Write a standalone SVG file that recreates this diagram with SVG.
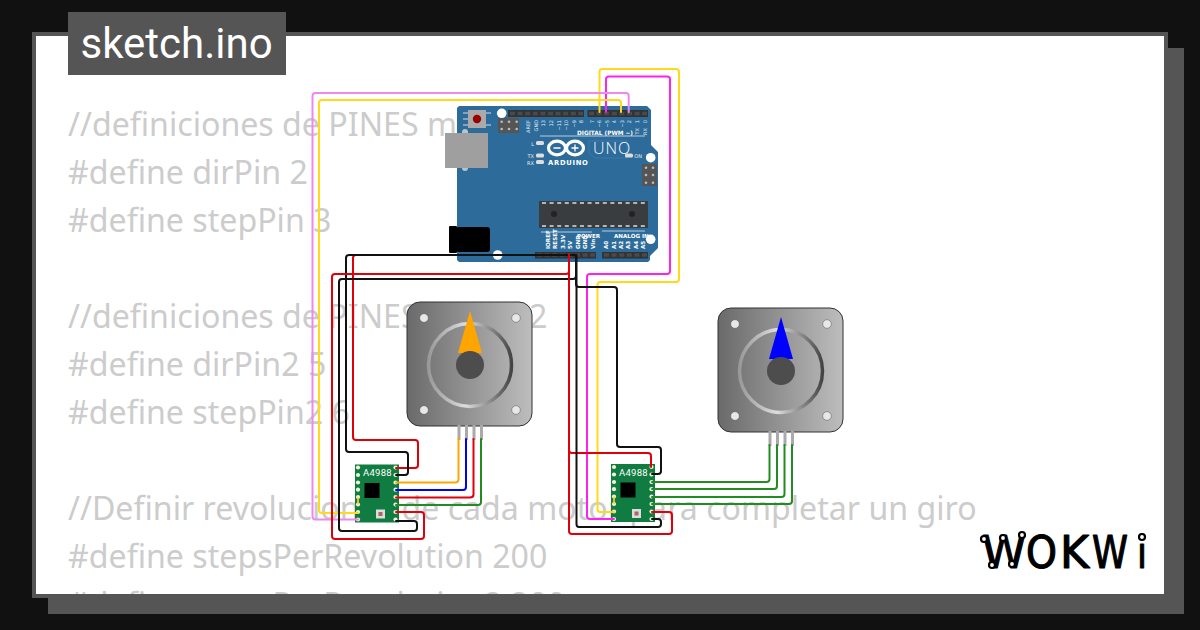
<svg xmlns="http://www.w3.org/2000/svg" xmlns:xlink="http://www.w3.org/1999/xlink" width="1200" height="630" viewBox="0 0 1200 630">
<style>
.code{font:400 32.13px "Noto Sans",sans-serif;fill:#ccc}
.w{fill:none;stroke-width:2;stroke-linejoin:round;stroke-linecap:round}
.lb{font:700 5.6px "DejaVu Sans",sans-serif;fill:#fff}
.pn{font:400 5px "DejaVu Sans",sans-serif;fill:#e6eef4;text-anchor:end}
</style>
<defs>
<linearGradient id="mg"><stop offset="0" stop-color="#6a6a6a"/><stop offset="1" stop-color="#bdbdbd"/></linearGradient>
<linearGradient id="rg"><stop offset="0" stop-color="#999"/><stop offset=".45" stop-color="#ddd"/><stop offset="1" stop-color="#444"/></linearGradient>
<clipPath id="page"><rect x="36" y="36" width="1128" height="558"/></clipPath>
<g id="motor">
<rect x="0" y="0" width="125" height="124" rx="13" fill="url(#mg)" stroke="#333" stroke-width="1"/>
<g fill="#e8e8e8" stroke="#555" stroke-width=".5"><circle cx="17" cy="16" r="4.3"/><circle cx="109" cy="16" r="4.3"/><circle cx="17" cy="108" r="4.3"/><circle cx="109" cy="108" r="4.3"/></g>
<circle cx="63" cy="63" r="41.5" fill="none" stroke="url(#rg)" stroke-width="3.5"/>
<g fill="#aaa"><rect x="50.5" y="123" width="3" height="15"/><rect x="58" y="123" width="3" height="15"/><rect x="65.5" y="123" width="3" height="15"/><rect x="73" y="123" width="3" height="15"/></g>
</g>
<g id="driver">
<rect x="0" y="0" width="44" height="58" fill="#107c41"/>
<g fill="#f4f0d8">
<circle cx="3" cy="3" r="2.1"/><circle cx="3" cy="10.5" r="2.1"/><circle cx="3" cy="18" r="2.1"/><circle cx="3" cy="25.2" r="2.1"/><circle cx="3" cy="32.5" r="2.1"/><circle cx="3" cy="40" r="2.1"/><circle cx="3" cy="47.5" r="2.1"/><circle cx="3" cy="55" r="2.1"/>
<circle cx="40.5" cy="3" r="2.1"/><circle cx="40.5" cy="10.5" r="2.1"/><circle cx="40.5" cy="18" r="2.1"/><circle cx="40.5" cy="25.2" r="2.1"/><circle cx="40.5" cy="32.5" r="2.1"/><circle cx="40.5" cy="40" r="2.1"/><circle cx="40.5" cy="47.5" r="2.1"/><circle cx="40.5" cy="55" r="2.1"/>
</g>
<text x="8" y="11.5" font-family="Roboto,sans-serif" font-size="9.5" letter-spacing=".25" fill="#fff">A4988</text>
<rect x="9.5" y="18.5" width="15" height="15" fill="#000"/>
<rect x="21" y="45" width="9" height="9" fill="#ddd"/><rect x="23.5" y="47.5" width="4" height="4" fill="#a66"/>
<path d="M3 32.5V40" stroke="#ffd91a" stroke-width="1.6" fill="none"/>
</g>
</defs>
<rect width="1200" height="630" fill="#111"/>
<rect x="48" y="48" width="1136" height="566" fill="#555"/>
<rect x="34" y="34" width="1132" height="562" fill="#fff" stroke="#555" stroke-width="4"/>
<g clip-path="url(#page)">
<text class="code" x="68" y="136">//definiciones de PINES m</text>
<text class="code" x="68" y="184">#define dirPin 2</text>
<text class="code" x="68" y="232">#define stepPin 3</text>
<text class="code" x="68" y="328">//definiciones de PINES motor 2</text>
<text class="code" x="68" y="376">#define dirPin2 5</text>
<text class="code" x="68" y="424">#define stepPin2 6</text>
<text class="code" x="68" y="520">//Definir revoluciones de cada motor para completar un giro</text>
<text class="code" x="68" y="568">#define stepsPerRevolution 200</text>
<text class="code" x="68" y="616">#define stepsPerRevolution2 200</text>
</g>
<rect x="68" y="12" width="218" height="63" fill="#555"/>
<text x="80.5" y="58" font-family="Roboto,sans-serif" font-size="42" fill="#fff">sketch.ino</text>
<g id="arduino">
<path d="M459 106H647L651 110V145L658 152V248L650 256V260L648 262H459L457 260V108Z" fill="#2c6b9a"/>
<rect x="449" y="226" width="8" height="27" rx="1" fill="#000"/><rect x="456" y="227" width="34" height="25" rx="3" fill="#000"/>
<rect x="462" y="129" width="6" height="42" rx="3" fill="#b8c4cc"/>
<rect x="445" y="133" width="43" height="35" fill="#9f9f9f"/>
<path d="M463 113h5M463 119h5M463 125h5M486 113h5M486 125h5" stroke="#ddd" stroke-width="1"/>
<rect x="468" y="110" width="18" height="18" fill="#aaa"/><circle cx="477" cy="119" r="4.2" fill="#990000"/>
<g fill="#fff"><circle cx="501.7" cy="113.3" r="4.8"/><circle cx="650.7" cy="157.7" r="4.8"/><circle cx="497.7" cy="255" r="4.8"/><circle cx="650.7" cy="239.3" r="4.8"/></g>
<g fill="#333">
<rect x="508" y="110" width="76" height="7"/><rect x="587.5" y="110" width="60.5" height="7"/>
<rect x="535" y="252" width="61" height="6.5"/><rect x="602" y="252" width="46" height="6.5"/>
<rect x="498" y="118" width="21" height="15" fill="#555"/><rect x="642" y="164" width="15" height="22" fill="#555"/>
</g>
<path d="M510 113.5H583M589 113.5H647M537 255H595M604 255H647" stroke="#4a4a4a" stroke-width="3.5" stroke-dasharray="5 2.6" fill="none"/>
<g fill="#bbb"><circle cx="501.7" cy="121.7" r="1.3"/><circle cx="509" cy="121.7" r="1.3"/><circle cx="516.7" cy="121.7" r="1.3"/><circle cx="501.7" cy="129" r="1.3"/><circle cx="509" cy="129" r="1.3"/><circle cx="516.7" cy="129" r="1.3"/><circle cx="646" cy="167.7" r="1.3"/><circle cx="653" cy="167.7" r="1.3"/><circle cx="646" cy="175" r="1.3"/><circle cx="653" cy="175" r="1.3"/><circle cx="646" cy="182.7" r="1.3"/><circle cx="653" cy="182.7" r="1.3"/></g>
<rect x="539" y="201" width="109" height="27" fill="#3a3d40"/>
<path d="M542 203H646M542 226H646" stroke="#ddd" stroke-width="1.6" stroke-dasharray="4 3.6" fill="none"/>
<g fill="#222"><circle cx="554" cy="214" r="3"/><circle cx="632" cy="214" r="3"/></g>
<path d="M540 136H645M541 232H592M602 231H645" stroke="#dfe8ef" stroke-width=".8" fill="none"/>
<path d="M589 141H627V158H595L589 153Z" fill="none" stroke="#3f7fae" stroke-width=".8"/>
<g fill="none" stroke="#fff" stroke-width="3.2"><ellipse cx="557" cy="148" rx="8.5" ry="6.8"/><ellipse cx="575" cy="148" rx="8.5" ry="6.8"/></g>
<path d="M553.5 148h7M571.5 148h7M575 144.5v7" stroke="#fff" stroke-width="1.3" fill="none"/>
<text x="548" y="165" font-family="'DejaVu Sans',sans-serif" font-weight="700" font-size="6.8" letter-spacing=".7" fill="#fff">ARDUINO</text>
<text x="593" y="153.5" font-family="'Open Sans',sans-serif" font-weight="300" font-size="16" letter-spacing="1" fill="#fff">UNO</text>
<text x="577" y="134.5" font-family="'DejaVu Sans',sans-serif" font-weight="700" font-size="6" textLength="56" lengthAdjust="spacingAndGlyphs" fill="#fff">DIGITAL (PWM ~)</text>
<g fill="#ddd"><rect x="536" y="141" width="8" height="4" rx="1.5"/><rect x="536" y="153.5" width="8" height="4" rx="1.5"/><rect x="536" y="160" width="8" height="4" rx="1.5"/><rect x="625" y="153.5" width="8" height="4" rx="1.5"/></g>
<g>
<text class="pn" x="534" y="145.5">L</text><text class="pn" x="534" y="158">TX</text><text class="pn" x="534" y="164.5">RX</text><text class="pn" x="642" y="158">ON</text>
<text class="lb" x="577" y="238">POWER</text><text class="lb" x="614" y="238">ANALOG IN</text>
<text class="pn" transform="translate(530 120) rotate(-90)">AREF</text>
<text class="pn" transform="translate(538 120) rotate(-90)">GND</text>
<text class="pn" transform="translate(545 120) rotate(-90)">13</text>
<text class="pn" transform="translate(553 120) rotate(-90)">12</text>
<text class="pn" transform="translate(560.5 120) rotate(-90)">~11</text>
<text class="pn" transform="translate(568 120) rotate(-90)">~10</text>
<text class="pn" transform="translate(576 120) rotate(-90)">~9</text>
<text class="pn" transform="translate(583 120) rotate(-90)">8</text>
<text class="pn" transform="translate(593.7 120) rotate(-90)">7</text>
<text class="pn" transform="translate(601 120) rotate(-90)">~6</text>
<text class="pn" transform="translate(608.7 120) rotate(-90)">~5</text>
<text class="pn" transform="translate(616 120) rotate(-90)">4</text>
<text class="pn" transform="translate(624 120) rotate(-90)">~3</text>
<text class="pn" transform="translate(631 120) rotate(-90)">2</text>
<text class="pn" transform="translate(639 120) rotate(-90)">1</text>
<text class="pn" transform="translate(647 120) rotate(-90)">0</text>
<text class="pn" transform="translate(639 128) rotate(-90)">TX</text>
<text class="pn" transform="translate(647 128) rotate(-90)">RX</text>
<text class="lb" transform="translate(549.7 249) rotate(-90)">IOREF</text>
<text class="lb" transform="translate(557 249) rotate(-90)">RESET</text>
<text class="lb" transform="translate(565 249) rotate(-90)">3.3V</text>
<text class="lb" transform="translate(572 249) rotate(-90)">5V</text>
<text class="lb" transform="translate(580 249) rotate(-90)">GND</text>
<text class="lb" transform="translate(587 249) rotate(-90)">GND</text>
<text class="lb" transform="translate(595 249) rotate(-90)">Vin</text>
<text class="lb" transform="translate(608 249) rotate(-90)">A0</text>
<text class="lb" transform="translate(615.7 249) rotate(-90)">A1</text>
<text class="lb" transform="translate(623 249) rotate(-90)">A2</text>
<text class="lb" transform="translate(630 249) rotate(-90)">A3</text>
<text class="lb" transform="translate(638 249) rotate(-90)">A4</text>
<text class="lb" transform="translate(645 249) rotate(-90)">A5</text>
</g>
</g>
<g id="motor1"><use xlink:href="#motor" href="#motor" x="407" y="302"/>
<path d="M470 311L482 353H458Z" fill="#ffa500"/><circle cx="470" cy="365" r="14" fill="#4d4d4d"/></g>
<g id="motor2"><use xlink:href="#motor" href="#motor" x="718" y="308"/>
<path d="M781 317L793 359H769Z" fill="#0000ff"/><circle cx="781" cy="371" r="14" fill="#4d4d4d"/></g>
<g id="driver1"><use xlink:href="#driver" href="#driver" x="355" y="464.5"/></g>
<g id="driver2"><use xlink:href="#driver" href="#driver" x="611" y="464"/></g>
<g id="connectors">
<path class="w" stroke="#ffd91a" d="M599.5 112V72Q599.5 69 602 69H676Q679 69 679 72V279Q679 282 676 282H600Q597.5 282 597.5 285V509Q597.5 512 600 512H614"/>
<path class="w" stroke="#ff22ee" d="M606 112V79Q606 76.5 609 76.5H667Q670 76.5 670 79V271Q670 274 667 274H590Q587 274 587 277V516Q587 519 590 519H614"/>
<path class="w" stroke="#ffd91a" d="M621 112V103Q621 100 618 100H322Q319 100 319 103V510Q319 513 322 513H358"/>
<path class="w" stroke="#ee88ee" d="M628.7 112V96Q628.7 93 626 93H315.5Q312.5 93 312.5 96V516Q312.5 519.5 315.5 519.5H358"/>
<path class="w" stroke="#e0000a" d="M569 255H356Q353 255 353 258V437Q353 440 356 440H415Q418 440 418 443V465Q418 468 415 468H396"/>
<path class="w" stroke="#111" d="M576 255H349Q346 255 346 258V449Q346 452 349 452H405Q408 452 408 455V472Q408 475 405 475H396"/>
<path class="w" stroke="#e0000a" d="M569 255V271Q569 274 566 274H335Q332 274 332 277V536Q332 539 335 539H421Q424 539 424 536V515Q424 512 421 512H396"/>
<path class="w" stroke="#111" d="M576 255V276Q576 279 573 279H342Q339 279 339 282V528Q339 531 342 531H414Q417 531 417 528V524Q417 521 414 521H396"/>
<path class="w" stroke="#ffa500" d="M458.5 439V479Q458.5 482.5 455 482.5H396"/>
<path class="w" stroke="#0000ff" d="M466 439V487Q466 490 463 490H396"/>
<path class="w" stroke="#e0000a" d="M473.5 439V494.5Q473.5 497.5 470 497.5H396"/>
<path class="w" stroke="#228b22" d="M481 439V502Q481 505 478 505H396"/>
<path class="w" stroke="#e0000a" d="M569 255V450Q569 453 572 453H648Q651 453 651 456V467"/>
<path class="w" stroke="#111" d="M576 255V284Q576 287 579 287H614Q617 287 617 290V444Q617 447 620 447H658Q661 447 661 450V471Q661 474 658 474H652"/>
<path class="w" stroke="#e0000a" d="M569 255V531Q569 534 572 534H669Q672 534 672 531V515Q672 512 669 512H652"/>
<path class="w" stroke="#111" d="M576.5 255V524Q576.5 527 579 527H658Q661 527 661 524V522Q661 519 658 519H652"/>
<path class="w" stroke="#228b22" d="M769.5 445V479Q769.5 482 766.5 482H652"/>
<path class="w" stroke="#228b22" d="M777 445V486Q777 489 774 489H652"/>
<path class="w" stroke="#228b22" d="M784.5 445V494Q784.5 497 781.5 497H652"/>
<path class="w" stroke="#228b22" d="M792 445V501Q792 504 789 504H652"/>
</g>
<g id="logo">
<text y="568" font-family="'DejaVu Sans',sans-serif" font-size="45" fill="#000" stroke="#000" stroke-width="1.2" stroke-linejoin="round"><tspan x="982" textLength="44" lengthAdjust="spacingAndGlyphs">W</tspan><tspan x="1026" textLength="31" lengthAdjust="spacingAndGlyphs">O</tspan><tspan x="1060" textLength="29" lengthAdjust="spacingAndGlyphs">K</tspan><tspan x="1092" textLength="36" lengthAdjust="spacingAndGlyphs">W</tspan><tspan x="1137" textLength="10" lengthAdjust="spacingAndGlyphs">i</tspan></text>
<g fill="#fff" stroke="#000" stroke-width="2.2"><circle cx="984" cy="539" r="3"/><circle cx="1003" cy="538" r="3"/><circle cx="1022" cy="535" r="3"/><circle cx="992" cy="565" r="3"/><circle cx="1012" cy="564" r="3"/><circle cx="1142" cy="537" r="3"/></g>
</g>
</svg>
